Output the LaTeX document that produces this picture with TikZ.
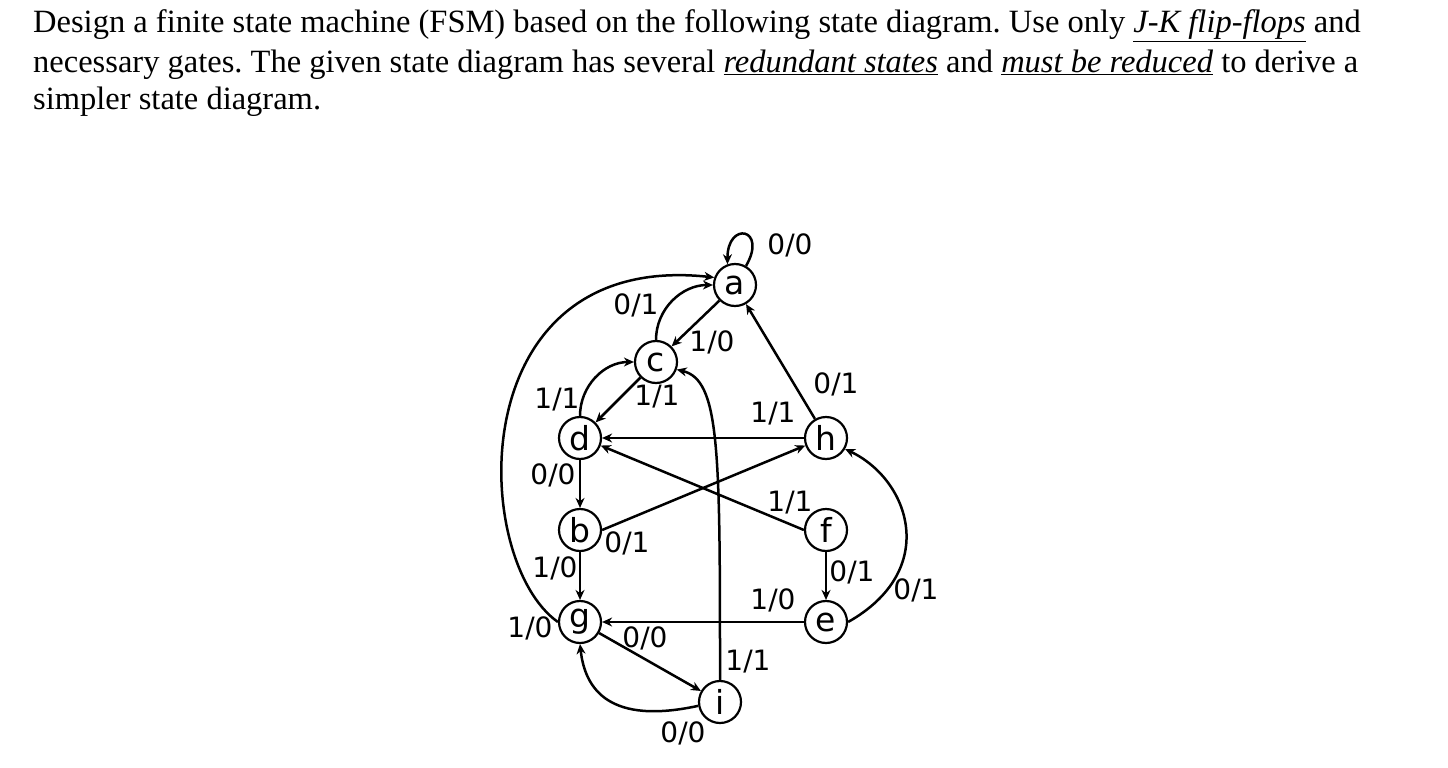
\documentclass[tikz,border=0pt]{standalone}
\usepackage{fontspec}
\setmainfont{Liberation Serif}
\newfontfamily\lbl{DejaVu Sans}
\usetikzlibrary{arrows.meta}
\frenchspacing
\begin{document}
\begin{tikzpicture}[x=1pt,y=-1pt,
  st/.style={circle,draw,line width=2.2pt,minimum size=42pt,inner sep=0pt,font=\lbl\fontsize{33}{33}\selectfont},
  ed/.style={line width=2.5pt,-{Stealth[length=10pt,width=9pt]}},
  lb/.style={font=\lbl\fontsize{28}{28}\selectfont,inner sep=0pt},
  tx/.style={anchor=base west,inner sep=0pt,font=\fontsize{32.5}{32.5}\selectfont}]
\useasboundingbox (0,0) rectangle (1448,768);
\node[tx] (t1) at (33,33) {Design a finite state machine (FSM) based on the following state diagram. Use only \underline{\textit{J-K flip-flops}} and};
\node[tx] (t2) at (33,72) {necessary gates. The given state diagram has several \underline{\textit{redundant states}} and \underline{\textit{must be reduced}} to derive a};
\node[tx] (t3) at (33,110) {simpler state diagram.};
\node[st] (a) at (735,285) {a};
\node[st] (c) at (656,362) {c};
\node[st] (d) at (580,438) {d};
\node[st] (h) at (826,438) {h};
\node[st] (b) at (580,530) {b};
\node[st] (f) at (826,530) {f};
\node[st] (g) at (580,622) {g};
\node[st] (e) at (826,622) {e};
\node[st] (i) at (720,702) {i};
\draw[ed] (a.60) to[out=60,in=90,looseness=6] (a.110);
\draw[ed] (g.west) .. controls (470,560) and (460,250) .. (a.160);
\draw[ed] (c.north) to[out=90,in=180] (a.west);
\draw[ed] (a.225) -- (c.45);
\draw[ed] (d.north) to[out=90,in=180] (c.west);
\draw[ed] (c.225) -- (d.45);
\draw[ed] (h.west) -- (d.east);
\draw[ed] (h.120) -- (a.-60);
\draw[ed] (f.west) -- (d.-20);
\draw[ed] (b.east) -- (h.200);
\draw[ed] (d.south) -- (b.north);
\draw[ed] (b.south) -- (g.north);
\draw[ed] (f.south) -- (e.north);
\draw[ed] (e.east) .. controls (940,570) and (910,480) .. (h.-30);
\draw[ed] (e.west) -- (g.east);
\draw[ed] (g.-30) -- (i.150);
\draw[ed] (i.190) .. controls (610,725) and (585,690) .. (g.south);
\draw[ed] (i.north) .. controls (720,450) and (720,380) .. (c.-20);
\node[lb] (l1) at (790,245) {0/0};
\node[lb] (l2) at (530,628) {1/0};
\node[lb] (l3) at (636,305) {0/1};
\node[lb] (l4) at (712,342) {1/0};
\node[lb] (l5) at (557,400) {1/1};
\node[lb] (l6) at (657,397) {1/1};
\node[lb] (l7) at (773,414) {1/1};
\node[lb] (l8) at (836,384) {0/1};
\node[lb] (l9) at (790,503) {1/1};
\node[lb] (l10) at (627,543) {0/1};
\node[lb] (l11) at (553,475) {0/0};
\node[lb] (l12) at (555,568) {1/0};
\node[lb] (l13) at (852,572) {0/1};
\node[lb] (l14) at (916,590) {0/1};
\node[lb] (l15) at (773,600) {1/0};
\node[lb] (l16) at (645,638) {0/0};
\node[lb] (l17) at (683,733) {0/0};
\node[lb] (l18) at (748,662) {1/1};
\end{tikzpicture}
\end{document}
